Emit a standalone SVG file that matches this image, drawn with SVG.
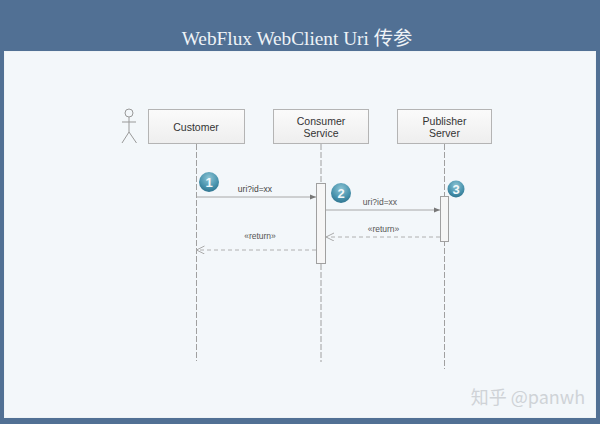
<svg xmlns="http://www.w3.org/2000/svg" width="600" height="424" viewBox="0 0 600 424">
<style>
.t{font-family:"Liberation Sans",Arial,sans-serif;fill:#333;text-anchor:middle}
.n{font-size:10.500px}
.m{font-size:8.500px;fill:#555}
.box{fill:url(#bg);stroke:#b4b4b4;stroke-width:1}
.life{stroke:#a0a0a0;stroke-width:1;stroke-dasharray:6 2;fill:none}
.act{fill:#f6f6f6;stroke:#a0a0a0;stroke-width:1}
.msg{stroke:#a8a8a8;stroke-width:1;fill:none;marker-end:url(#solid)}
.ret{stroke:#b0b0b0;stroke-width:1;fill:none;stroke-dasharray:4 3;marker-end:url(#open)}
.badge{stroke:none;fill:url(#bd)}
.bn{font-family:"Liberation Sans",Arial,sans-serif;font-weight:bold;font-size:13px;fill:#f2f8fa;text-anchor:middle}
</style>
<defs>
<linearGradient id="bg" x1="0" y1="0" x2="0" y2="1"><stop offset="0" stop-color="#fbfbfb"/><stop offset="1" stop-color="#eeeeee"/></linearGradient>
<radialGradient id="bd" cx="0.5" cy="0.3" r="0.75"><stop offset="0" stop-color="#8cc4d4"/><stop offset="0.6" stop-color="#4a94ae"/><stop offset="1" stop-color="#2a6f8a"/></radialGradient>
<marker id="solid" markerWidth="7" markerHeight="7" refX="6" refY="3" orient="auto" markerUnits="userSpaceOnUse"><path d="M0 0.500L6 3L0 5.500Z" fill="#777"/></marker>
<marker id="open" markerWidth="10" markerHeight="10" refX="8" refY="4" orient="auto" markerUnits="userSpaceOnUse"><path d="M0 0L8 4L0 8" fill="none" stroke="#aaa"/></marker>
</defs>
<rect width="600" height="424" fill="#517094"/>
<rect x="4.500" y="51.500" width="591" height="366" fill="#f3f7fa" stroke="#eef3f6"/>
<text x="297" y="45" font-family="'Liberation Serif','Noto Sans CJK SC',serif" font-size="19.300" fill="#eef3f7" text-anchor="middle">WebFlux WebClient Uri 传参</text>
<g id="connectors">
<path class="life" d="M196.500 144V361"/>
<path class="life" d="M321 144V362"/>
<path class="life" d="M444.500 144V369"/>
<path class="msg" d="M196.500 197H316"/>
<path class="msg" d="M326 210H440"/>
<path class="ret" d="M440 237H326"/>
<path class="ret" d="M316 250H196.500"/>
</g>
<g id="actor" fill="none" stroke="#999" stroke-width="1">
<circle cx="129" cy="113" r="4"/>
<path d="M129 117V132M122 122H136M129 132L122 143M129 132L136.500 143"/>
</g>
<g id="customer"><rect class="box" x="148.500" y="109.500" width="96" height="34"/><text class="t n" x="196" y="131">Customer</text></g>
<g id="consumer"><rect class="box" x="273.500" y="109.500" width="95" height="34"/><text class="t n"><tspan x="321" y="125">Consumer</tspan><tspan x="321" y="137">Service</tspan></text></g>
<g id="publisher"><rect class="box" x="397.500" y="109.500" width="94" height="34"/><text class="t n"><tspan x="444.500" y="125">Publisher</tspan><tspan x="444.500" y="137">Server</tspan></text></g>
<g id="act-consumer"><rect class="act" x="316.500" y="183.500" width="9" height="80"/></g>
<g id="act-publisher"><rect class="act" x="440.500" y="196.500" width="8" height="45"/></g>
<g id="badge1"><circle class="badge" cx="209" cy="182" r="10"/><text class="bn" x="209" y="186.500">1</text></g>
<g id="badge2"><circle class="badge" cx="341" cy="193" r="10"/><text class="bn" x="341" y="197.500">2</text></g>
<g id="badge3"><circle class="badge" cx="456" cy="189" r="8.500"/><text class="bn" x="456" y="193.500">3</text></g>
<text class="t m" x="255" y="192" style="fill:#444">uri?id=xx</text>
<text class="t m" x="380" y="204.500">uri?id=xx</text>
<text class="t m" x="383.500" y="232">«return»</text>
<text class="t m" x="260" y="239">«return»</text>
<text x="528" y="404" font-family="'Noto Sans CJK SC','Liberation Sans',sans-serif" font-size="18px" fill="#cfd3d7" text-anchor="middle">知乎 @panwh</text>
</svg>
